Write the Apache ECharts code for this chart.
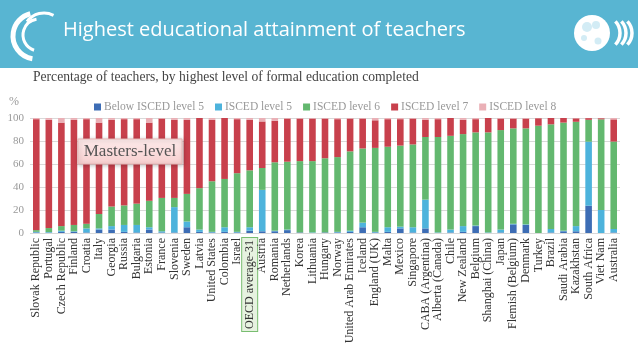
<!DOCTYPE html>
<html><head><meta charset="utf-8">
<script src="https://cdn.jsdelivr.net/npm/echarts@6/dist/echarts.min.js"></script>
<style>html,body{margin:0;padding:0;background:#fff}#c{width:638px;height:359px}</style>
</head><body><div id="c"></div>
<script>
var categories = ["Slovak Republic","Portugal","Czech Republic","Finland","Croatia","Italy","Georgia","Russia","Bulgaria","Estonia","France","Slovenia","Sweden","Latvia","United States","Colombia","Israel","OECD average-31","Austria","Romania","Netherlands","Korea","Lithuania","Hungary","Norway","United Arab Emirates","Iceland","England (UK)","Malta","Mexico","Singapore","CABA (Argentina)","Alberta (Canada)","Chile","New Zealand","Belgium","Shanghai (China)","Japan","Flemish (Belgium)","Denmark","Turkey","Brazil","Saudi Arabia","Kazakhstan","South Africa","Viet Nam","Australia"];
var below5 = [0.5,0.3,1,1,0.5,3,3,1,0.5,3,0.5,0.5,5,1,0.5,1,0.5,2,1.5,1.5,2.5,0.5,0,0.5,0.5,1,5,0.5,1,4,0.5,4,0,0.5,1,6,0,0.5,7.5,7,0,0.5,1.5,1.5,23.7,0,0.5];
var isced5 = [0.5,0.5,1,0.5,3.5,1,3,6,6.5,2,1,22,5,2,0.5,4,0.5,3,36,0.5,0.5,0,0.5,0,0.5,1,4,0.5,4,1.5,4.5,25,0.5,2.5,5,0.5,0.5,2.5,0.5,0.5,0,3,0.5,4.5,55.7,20,3];
var isced6 = [1.5,3.5,4,5.5,4,12.5,17,17,18.5,23,29,8,24,36,44,42,51,49.5,19,59.5,59,62,62,64.5,65,69,64.5,73,70,70.5,72,54.5,83,81.5,80,81,87,86.5,83,83.5,93.3,91,94,90.7,19,78.8,76];
var isced7 = [96.5,94.2,90,91.5,91,79.5,75.5,75,73.5,68,69,68,64.5,61,53.5,53,47,44,40.5,36,37.5,37,37,34.5,33,28.5,26,24,24,23,22.5,15,15.5,15.5,12.5,11.5,12.5,10,8.5,8.5,6.5,5.5,4,3,1.5,1,19.3];
var isced8 = [1,1.5,4,1.5,1,4,1.5,1,1,4,0.5,1.5,1.5,0,1.5,0,1,1.5,3,2.5,0.5,0.5,0.5,0.5,1,0.5,0.5,2,1,1,0.5,1.5,1,0,1.5,1,0,0.5,0.5,0.5,0.2,0,0,0.3,0.1,0.2,1.2];
var yTicks = [0,20,40,60,80,100];
var seriesNames = ["Below ISCED level 5","ISCED level 5","ISCED level 6","ISCED level 7","ISCED level 8"];
var colors = ["#3d6db5","#4db3dc","#63b86f","#c8404c","#eab0b6"];

var serif = "'Liberation Serif', 'DejaVu Serif', serif";
var chart = echarts.init(document.getElementById('c'));
var dataSets = [below5, isced5, isced6, isced7, isced8];
var series = dataSets.map(function(d, i){
  return {name: seriesNames[i], type:'bar', stack:'all', data:d, barWidth:6.6,
    itemStyle:{color:colors[i]}, emphasis:{disabled:true}};
});
var chev = [603,609,615].map(function(cx){
  return {type:'arc', shape:{cx:cx,cy:33,r:17,startAngle:-Math.PI*0.24,endAngle:Math.PI*0.24}, style:{stroke:'#fff',lineWidth:3.5,fill:null}};
});
chart.setOption({
  animation:false,
  backgroundColor:'#fff',
  color: colors,
  graphic:[
    {type:'rect', shape:{x:0,y:0,width:638,height:68}, style:{fill:'#58b5d2'}, z:-1},
    {type:'text', left:63, top:20, style:{text:'Highest educational attainment of teachers', fill:'#fff', font:"20px 'Open Sans', sans-serif"}},
    {type:'arc', shape:{cx:36,cy:36,r:23,startAngle:Math.PI*0.55,endAngle:Math.PI*1.42}, style:{stroke:'#fff',lineWidth:5,fill:null}},
    {type:'arc', shape:{cx:39,cy:35,r:16,startAngle:Math.PI*0.6,endAngle:Math.PI*1.45}, style:{stroke:'#fff',lineWidth:3,fill:null}},
    {type:'arc', shape:{cx:44,cy:34,r:21,startAngle:Math.PI*1.2,endAngle:Math.PI*1.65}, style:{stroke:'#fff',lineWidth:3,fill:null}},
    {type:'circle', shape:{cx:592,cy:33,r:18}, style:{fill:'#fff'}},
    {type:'circle', shape:{cx:587,cy:27,r:5}, style:{fill:'#d3ecf5'}},
    {type:'circle', shape:{cx:596,cy:25,r:4}, style:{fill:'#d3ecf5'}},
    {type:'circle', shape:{cx:584,cy:38,r:3}, style:{fill:'#d3ecf5'}},
    {type:'circle', shape:{cx:598,cy:41,r:3.5}, style:{fill:'#d3ecf5'}},
    chev[0], chev[1], chev[2],
    {type:'text', left:33, top:70, style:{text:'Percentage of teachers, by highest level of formal education completed', fill:'#444', font:"13.6px "+serif}},
    {type:'text', left:9, top:96, style:{text:'%', fill:'#999', font:"12px "+serif}},
    {type:'rect', shape:{x:78,y:139,width:104,height:25}, z:10,
      style:{fill:{type:'linear',x:0,y:0,x2:0,y2:1,colorStops:[{offset:0,color:'#fdeaea'},{offset:1,color:'#f7cfcf'}]}, stroke:'#e9b7b7', lineWidth:1, shadowBlur:4, shadowColor:'rgba(0,0,0,0.25)', shadowOffsetX:1, shadowOffsetY:1}},
    {type:'text', z:11, x:130, y:151.5, style:{text:'Masters-level', fill:'#555', font:"17px "+serif, align:'center', verticalAlign:'middle'}}
  ],
  legend:{left:89, top:96, itemWidth:7, itemHeight:7, itemGap:11, icon:'rect', selectedMode:false,
    textStyle:{color:'#999', fontFamily:serif, fontSize:11.5, padding:[0,0,0,-2]}, data:seriesNames},
  grid:{left:30, right:18, top:118, bottom:126, containLabel:false},
  xAxis:{type:'category', data:categories, axisLine:{show:false}, axisTick:{show:false},
    axisLabel:{interval:0, rotate:90, margin:5, color:'#333', fontFamily:serif, fontSize:12,
      formatter:function(v){ return v==='OECD average-31' ? '{o|'+v+'}' : v; },
      rich:{o:{backgroundColor:'#e6f2e0', borderColor:'#78bd70', borderWidth:1, padding:[2,2,1,2], fontFamily:serif, fontSize:12, color:'#333'}}}},
  yAxis:{type:'value', min:0, max:100, interval:20, axisLine:{show:false}, axisTick:{show:false},
    axisLabel:{color:'#999', fontFamily:serif, fontSize:11, margin:6,
      formatter:function(v){ return yTicks.indexOf(v)>=0 ? String(v) : ''; }},
    splitLine:{lineStyle:{color:'#d9d9d9', width:1}}},
  series: series
});
</script></body></html>
